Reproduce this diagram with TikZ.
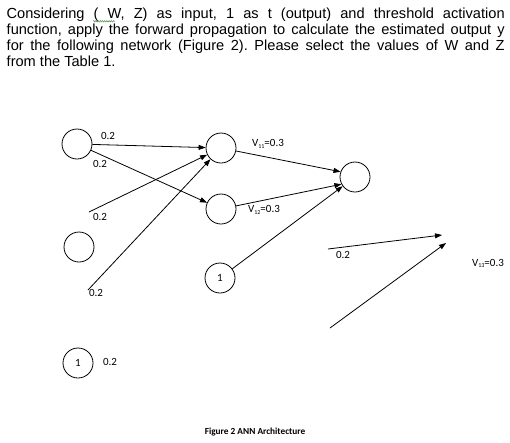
\documentclass[tikz,border=0pt]{standalone}
\usepackage{fontspec}
\setmainfont{Liberation Sans}
\newfontfamily\labfont{Carlito}
\usetikzlibrary{arrows.meta,decorations.pathmorphing}
\definecolor{squig}{RGB}{100,150,100}
\newcommand{\smallsub}[1]{\raisebox{-0.25ex}{\fontsize{6}{7}\selectfont #1}}
\begin{document}
\begin{tikzpicture}[x=1pt,y=-1pt,
  neuron/.style={circle,draw,line width=0.8pt,minimum size=30pt,inner sep=0pt,font=\labfont\fontsize{11}{13}\selectfont},
  arr/.style={line width=0.8pt,-{Triangle[length=7pt,width=5pt]}},
  wlab/.style={font=\labfont\fontsize{11}{13}\selectfont,inner sep=0pt},
  line/.style={font=\fontsize{14.6}{16}\selectfont\frenchspacing,anchor=base west,inner sep=0pt}]
\useasboundingbox (0,0) rectangle (510,442);
% paragraph
\node[line] (t1) at (6.5,18.7) {\makebox[498pt][s]{Considering ( W, Z) as input, 1 as t (output) and threshold activation}};
\node[line] (t2) at (6.5,34.6) {\makebox[498pt][s]{function, apply the forward propagation to calculate the estimated output y}};
\node[line] (t3) at (6.5,50.5) {\makebox[498pt][s]{for the following network (Figure 2). Please select the values of W and Z}};
\node[line] (t4) at (6.5,66.3) {from the Table 1.};
\coordinate (s1) at (93,21.3);
\coordinate (s2) at (115,21.3);
\draw[squig,line width=0.6pt,decorate,decoration={snake,amplitude=0.7pt,segment length=2.2pt}] (s1) -- (s2);
% neurons
\node[neuron] (A) at (77,144) {};
\node[neuron] (B) at (79,247) {};
\node[neuron] (C) at (78,363) {1};
\node[neuron] (H1) at (221,148) {};
\node[neuron] (H2) at (221,209) {};
\node[neuron] (HB) at (220,278) {1};
\node[neuron] (O) at (355,177) {};
% free ends
\coordinate (f1) at (89,212);
\coordinate (f2) at (88,290);
\coordinate (g1) at (328,249);
\coordinate (g2) at (442,235);
\coordinate (g3) at (330,328);
\coordinate (g4) at (446,243);
% connectors
\draw[arr] (A) -- (H1);
\draw[arr] (A) -- (H2);
\draw[arr] (f1) -- (H1);
\draw[arr] (f2) -- (H1);
\draw[arr] (H1) -- (O.160);
\draw[arr] (H2) -- (O.208);
\draw[arr] (HB) -- (O);
\draw[arr] (g1) -- (g2);
\draw[arr] (g3) -- (g4);
% labels
\node[wlab] (w1) at (108,136) {0.2};
\node[wlab] (w2) at (100,164) {0.2};
\node[wlab] (w3) at (100,217) {0.2};
\node[wlab] (w4) at (96,293) {0.2};
\node[wlab] (w5) at (110,362) {0.2};
\node[wlab] (w6) at (343,255) {0.2};
\node[wlab] (v1) at (268,144) {V\smallsub{11}=0.3};
\node[wlab] (v2) at (264,210) {V\smallsub{12}=0.3};
\node[wlab] (v3) at (488,263.5) {V\smallsub{13}=0.3};
\node[font=\labfont\bfseries\fontsize{9.3}{11}\selectfont,inner sep=0pt] (cap) at (255,432) {Figure 2 ANN Architecture};
\end{tikzpicture}
\end{document}
